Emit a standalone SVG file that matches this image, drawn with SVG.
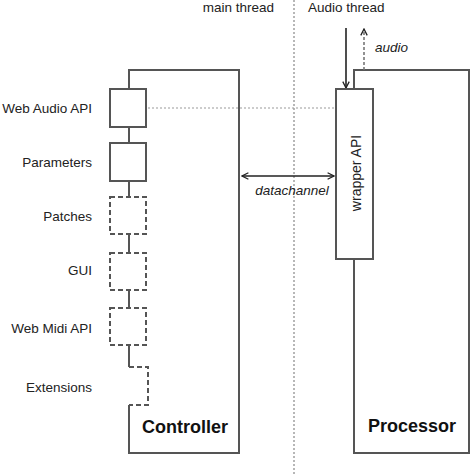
<svg xmlns="http://www.w3.org/2000/svg" width="474" height="474" viewBox="0 0 474 474">
<style>
.ln{fill:none;stroke:#555;stroke-width:2}
.bx{fill:#fff;stroke:#555;stroke-width:2}
.dbx{fill:#fff;stroke:#555;stroke-width:2;stroke-dasharray:5,3}
.lbl{font-family:"Liberation Sans",Arial,sans-serif;font-size:13.5px;fill:#222}
.it{font-family:"Liberation Sans",Arial,sans-serif;font-size:13.5px;font-style:italic;fill:#222}
.big{font-family:"Liberation Sans",Arial,sans-serif;font-size:18px;font-weight:bold;fill:#111}
</style>
<defs>
<marker id="chev" viewBox="0 0 10 10" refX="9" refY="5" markerWidth="8" markerHeight="8" orient="auto-start-reverse" markerUnits="userSpaceOnUse">
<path d="M1,1 L9,5 L1,9" fill="none" stroke="#222" stroke-width="1.6"/>
</marker>
</defs>
<g id="threads">
<line x1="294" y1="0" x2="294" y2="474" stroke="#888" stroke-width="1.2" stroke-dasharray="2,2"/>
<text class="lbl" x="274" y="12" text-anchor="end">main thread</text>
<text class="lbl" x="308" y="12">Audio thread</text>
</g>
<g id="controller">
<path class="ln" d="M129,89 V70 H239 V453 H129 V405"/>
<text class="big" x="185" y="433" text-anchor="middle">Controller</text>
</g>
<g id="processor">
<path class="ln" d="M354,89 V70 H469 V453 H354 V259"/>
<text class="big" x="412" y="432" text-anchor="middle">Processor</text>
</g>
<g id="connectors">
<line x1="148" y1="108" x2="336" y2="108" stroke="#999" stroke-width="1.2" stroke-dasharray="2,2"/>
<path class="ln" d="M129,127 V143 M129,181 V197 M129,234 V253 M129,290 V308 M129,345 V367"/>
<line x1="242" y1="176" x2="334" y2="176" stroke="#222" stroke-width="1.6" marker-start="url(#chev)" marker-end="url(#chev)"/>
<text class="it" x="292" y="195" text-anchor="middle">datachannel</text>
<line x1="346" y1="28" x2="346" y2="88" stroke="#222" stroke-width="1.6" marker-end="url(#chev)"/>
<line x1="364" y1="70" x2="364" y2="29" stroke="#777" stroke-width="1.6" stroke-dasharray="3,2" marker-end="url(#chev)"/>
<text class="it" x="375" y="52">audio</text>
</g>
<g id="web-audio-api">
<rect class="bx" x="110" y="89" width="36" height="38"/>
<text class="lbl" x="92" y="113" text-anchor="end">Web Audio API</text>
</g>
<g id="parameters">
<rect class="bx" x="110" y="143" width="36" height="38"/>
<text class="lbl" x="92" y="167" text-anchor="end">Parameters</text>
</g>
<g id="patches">
<rect class="dbx" x="110" y="197" width="36" height="37"/>
<text class="lbl" x="92" y="221" text-anchor="end">Patches</text>
</g>
<g id="gui">
<rect class="dbx" x="110" y="253" width="36" height="37"/>
<text class="lbl" x="92" y="275" text-anchor="end">GUI</text>
</g>
<g id="web-midi-api">
<rect class="dbx" x="110" y="308" width="36" height="37"/>
<text class="lbl" x="92" y="333" text-anchor="end">Web Midi API</text>
</g>
<g id="extensions">
<path class="ln" d="M129,367 H148 V405 H129" stroke-dasharray="5,3"/>
<text class="lbl" x="92" y="392" text-anchor="end">Extensions</text>
</g>
<g id="wrapper-api">
<rect class="bx" x="336" y="89" width="37" height="170"/>
<text class="lbl" transform="translate(361,173) rotate(-90)" text-anchor="middle" style="font-size:14px">wrapper API</text>
</g>
</svg>
